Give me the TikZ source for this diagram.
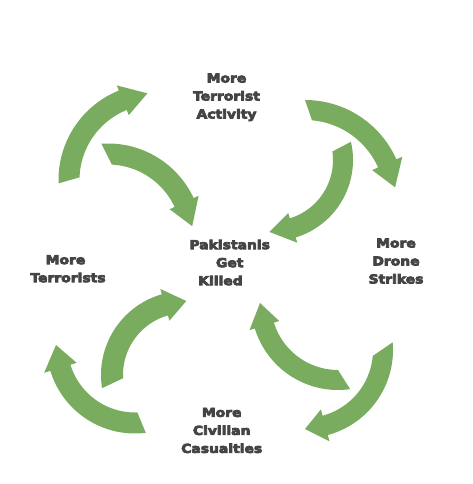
\documentclass[tikz,border=0pt]{standalone}
\usepackage{fontspec}
\newfontfamily\lbl{DejaVu Sans}[UprightFont=* Bold, FakeStretch=1.13, FakeBold=6]
\definecolor{arrowgreen}{RGB}{121,172,95}
\definecolor{labelgray}{RGB}{68,68,68}
% #1 cx, #2 cy, #3 r, #4 w, #5 tail angle outer, #6 tail angle inner, #7 head base angle, #8 tip angle, #9 head width
\newcommand\garrow[9]{%
  \fill[arrowgreen]
    plot[domain=#5:#7, samples=40] ({#1+(#3+#4/2)*cos(\x)}, {#2+(#3+#4/2)*sin(\x)})
    -- ({#1+(#3+#9/2)*cos(#7)}, {#2+(#3+#9/2)*sin(#7)})
    -- ({#1+(#3+1)*cos(#8)}, {#2+(#3+1)*sin(#8)})
    -- ({#1+(#3-#9/2)*cos(#7)}, {#2+(#3-#9/2)*sin(#7)})
    -- plot[domain=#7:#6, samples=40] ({#1+(#3-#4/2)*cos(\x)}, {#2+(#3-#4/2)*sin(\x)})
    -- cycle;}
\tikzset{
  lab/.style={anchor=north, inner sep=0pt, align=center, text=labelgray,
    font=\lbl\fontsize{12.3}{18}\selectfont}
}
\begin{document}
\begin{tikzpicture}[x=1pt, y=-1pt]
\fill[white] (0,0) rectangle (472,484);
\useasboundingbox (0,0) rectangle (472,484);
% top-left pair
\garrow{155}{180}{86}{21}{178}{182}{248}{265}{32}
\garrow{108}{238}{84}{21}{266}{273}{335}{352}{32}
% top-right pair
\garrow{305}{200}{90}{20}{270}{275}{336}{352}{33}
\garrow{272}{160}{71}{20}{347}{352}{433}{452}{31}
% bottom-left pair
\garrow{135}{345}{78}{21}{83}{88}{163}{180}{34}
\garrow{185}{375}{73}{22}{171}{177}{254}{271}{33}
% bottom-right pair
\garrow{338}{303}{77}{20}{82}{90}{163}{180}{31}
\garrow{305}{350}{78}{20}{355}{365}{435}{450}{33}
% labels
\node[lab] (activity) at (226.5,73.3) {More\\Terrorist\\Activity};
\node[lab] (killed) at (229.7,239.6) {Pakistanis\\Get\hspace*{15.4pt}\\Killed\hspace*{18.4pt}};
\node[lab] (drone) at (396,238.3) {More\\Drone\\Strikes};
\node[lab] (terrorists) at (68,255) {More\hspace*{5pt}\\Terrorists};
\node[lab] (civilian) at (221.7,407.7) {More\\Civilian\\Casualties};
\end{tikzpicture}
\end{document}
